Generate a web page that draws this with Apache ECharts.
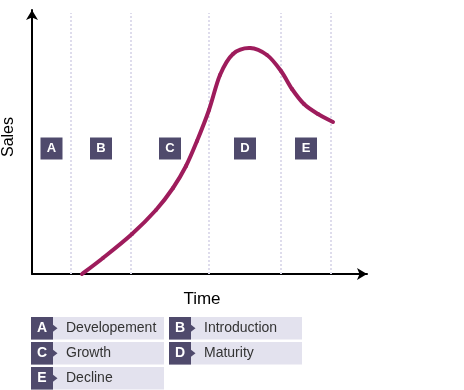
<!DOCTYPE html>
<html>
<head>
<meta charset="utf-8">
<script src="https://cdn.jsdelivr.net/npm/echarts@6/dist/echarts.min.js"></script>
<style>
html,body{margin:0;padding:0;background:#fff;}
#main{width:464px;height:390px;}
</style>
</head>
<body>
<div id="main"></div>
<script>
// ---- data ----
const phaseLetters = ['A', 'B', 'C', 'D', 'E'];
const phaseNames = ['Developement', 'Introduction', 'Growth', 'Maturity', 'Decline'];
const phaseBounds = [0, 3.9, 9.9, 17.7, 24.9, 29.9];
const timeValues = [5.0, 7.1, 10.0, 12.4, 14.1, 15.4, 16.5, 17.7, 18.8, 20.1, 21.8, 23.5, 24.9, 26.0, 27.2, 28.6, 30.1];
const salesValues = [0, 1.6, 4.0, 6.4, 8.6, 10.8, 13.3, 16.4, 19.9, 22.0, 22.6, 21.9, 20.3, 18.5, 17.0, 16.0, 15.2];
const phaseBoxLevel = 12.55;
const axisNames = { x: 'Time', y: 'Sales' };

// ---- styles ----
const DARK = '#4f4a6c';
const LIGHT = '#e3e2ee';
const CURVE = '#9e1c5c';
const FONT = 'Liberation Sans, Arial, Helvetica, sans-serif';

const chart = echarts.init(document.getElementById('main'), null, { renderer: 'canvas' });

const curveData = timeValues.map((t, i) => [t, salesValues[i]]);
const boxData = phaseLetters.map((l, i) => ({
  value: [(phaseBounds[i] + phaseBounds[i + 1]) / 2, phaseBoxLevel],
  letter: l
}));

const boundarySeries = phaseBounds.slice(1).map(b => ({
  type: 'line',
  data: [[b, 0], [b, 26.1]],
  z: 1,
  silent: true,
  symbol: 'none',
  showSymbol: false,
  lineStyle: { color: '#dedcec', width: 2, type: [2, 2] }
}));

// smooth curve (Catmull-Rom through the data points, positioned by the axes)
function renderCurve(params, api) {
  const i = params.dataIndex;
  const n = curveData.length;
  if (i >= n - 1) return null;
  const P = k => api.coord(curveData[Math.max(0, Math.min(n - 1, k))]);
  const p0 = P(i - 1), p1 = P(i), p2 = P(i + 1), p3 = P(i + 2);
  const c1 = [p1[0] + (p2[0] - p0[0]) / 6, p1[1] + (p2[1] - p0[1]) / 6];
  const c2 = [p2[0] - (p3[0] - p1[0]) / 6, p2[1] - (p3[1] - p1[1]) / 6];
  return {
    type: 'bezierCurve',
    shape: { x1: p1[0], y1: p1[1], cpx1: c1[0], cpy1: c1[1], cpx2: c2[0], cpy2: c2[1], x2: p2[0], y2: p2[1] },
    style: { stroke: CURVE, lineWidth: 4, fill: null, lineCap: 'round' }
  };
}

// legend graphics
const legendGraphics = [];
const colX = [31, 169];
const rowY = [317, 342, 367];
phaseNames.forEach((name, i) => {
  const x = colX[i % 2];
  const y = rowY[Math.floor(i / 2)];
  const h = 22.6;
  legendGraphics.push({
    type: 'rect', shape: { x: x + 22, y: y, width: 111, height: h },
    style: { fill: LIGHT }, silent: true
  });
  legendGraphics.push({
    type: 'rect', shape: { x: x, y: y, width: 22, height: h },
    style: { fill: DARK }, silent: true
  });
  legendGraphics.push({
    type: 'polygon', shape: { points: [[x + 22, y + h / 2 - 3.5], [x + 26.5, y + h / 2], [x + 22, y + h / 2 + 3.5]] },
    style: { fill: DARK }, silent: true
  });
  legendGraphics.push({
    type: 'text', x: x + 11, y: y + h / 2,
    style: { text: phaseLetters[i], fill: '#fff', font: 'bold 14px ' + FONT, textAlign: 'center', textVerticalAlign: 'middle' },
    silent: true
  });
  legendGraphics.push({
    type: 'text', x: x + 35, y: y + h / 2,
    style: { text: name, fill: '#333', font: '14px ' + FONT, textAlign: 'left', textVerticalAlign: 'middle' },
    silent: true
  });
});

legendGraphics.push({
  type: 'text', x: 202, y: 299,
  style: { text: axisNames.x, fill: '#000', font: '17px ' + FONT, textAlign: 'center', textVerticalAlign: 'middle' },
  silent: true
});
legendGraphics.push({
  type: 'text', x: 9, y: 137, rotation: Math.PI / 2,
  style: { text: axisNames.y, fill: '#000', font: '16px ' + FONT, textAlign: 'center', textVerticalAlign: 'middle' },
  silent: true
});

const axisCommon = {
  type: 'value',
  min: 0,
  axisTick: { show: false },
  axisLabel: { show: false },
  splitLine: { show: false },
  axisLine: {
    show: true,
    onZero: false,
    symbol: ['none', 'arrow'],
    symbolSize: [9, 10],
    lineStyle: { color: '#000', width: 2 }
  }
};

chart.setOption({
  animation: false,
  backgroundColor: '#fff',
  grid: { left: 32, right: 97, top: 10, bottom: 116 },
  xAxis: Object.assign({}, axisCommon, { max: 33.5 }),
  yAxis: Object.assign({}, axisCommon, { max: 26.4 }),
  graphic: legendGraphics,
  series: boundarySeries.concat([
    {
      type: 'custom',
      coordinateSystem: 'cartesian2d',
      data: curveData,
      z: 3,
      silent: true,
      clip: false,
      renderItem: renderCurve
    },
    {
      type: 'scatter',
      data: boxData,
      z: 4,
      silent: true,
      symbol: 'rect',
      symbolSize: 22,
      itemStyle: { color: DARK, opacity: 1 },
      label: {
        show: true,
        position: 'inside',
        formatter: p => p.data.letter,
        color: '#fff',
        fontWeight: 'bold',
        fontSize: 13,
        fontFamily: FONT
      }
    }
  ])
});
</script>
</body>
</html>
